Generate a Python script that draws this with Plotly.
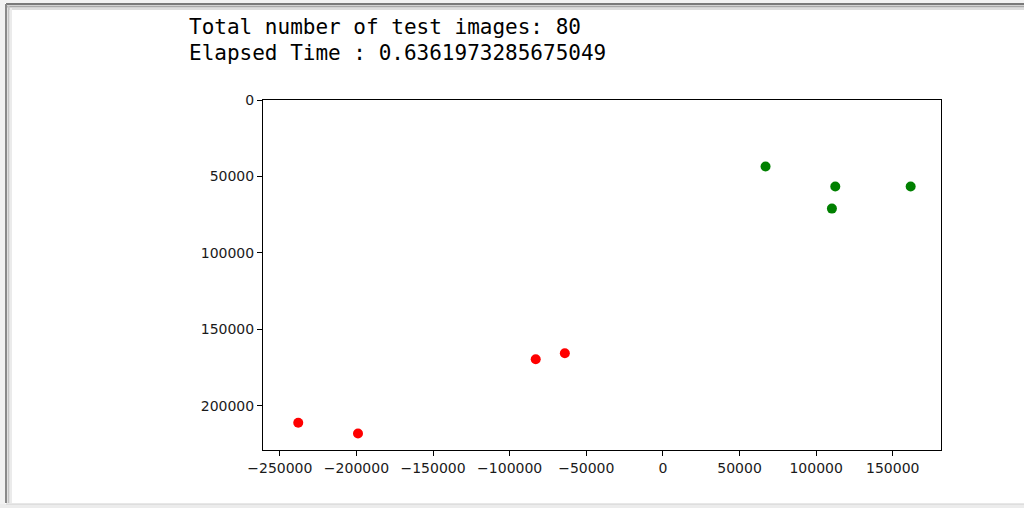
import plotly.graph_objects as go

# valores
red_x = [-238000, -199000, -83000, -64000]
red_y = [211000, 218000, 169500, 165500]
green_x = [67000, 112500, 110300, 161700]
green_y = [43500, 56500, 71000, 56500]

header_lines = ["Total number of test images: 80", "Elapsed Time : 0.6361973285675049"]

W, H = 1024, 508
L, R, T, B = 263, 941, 100, 450


def px(x):
    return (x - L) / (R - L)


def py(y):
    return (B - y) / (B - T)


fig = go.Figure()

fig.add_trace(go.Scatter(
    x=red_x, y=red_y, mode="markers",
    marker=dict(color="#ff0000", size=10, line=dict(width=0)),
    showlegend=False
))
fig.add_trace(go.Scatter(
    x=green_x, y=green_y, mode="markers",
    marker=dict(color="#008000", size=10, line=dict(width=0)),
    showlegend=False
))

axis_common = dict(
    showgrid=False, zeroline=False,
    showline=True, linecolor="#000000", linewidth=1, mirror=True,
    ticks="outside", ticklen=5, tickwidth=1, tickcolor="#000000",
    tickfont=dict(family="DejaVu Sans", size=14, color="#1a1a1a"),
    tickformat="d",
)

# marco gris de la ventana del notebook
shapes = [
    dict(type="rect", xref="paper", yref="paper", x0=px(0), x1=px(W), y0=py(3), y1=py(0),
         fillcolor="#f2f2f2", line=dict(width=0), layer="below"),
    dict(type="rect", xref="paper", yref="paper", x0=px(0), x1=px(5), y0=py(H), y1=py(0),
         fillcolor="#f2f2f2", line=dict(width=0), layer="below"),
    dict(type="rect", xref="paper", yref="paper", x0=px(0), x1=px(W), y0=py(H), y1=py(504),
         fillcolor="#ececec", line=dict(width=0), layer="below"),
    dict(type="line", xref="paper", yref="paper", x0=px(6), x1=px(W), y0=py(4), y1=py(4),
         line=dict(color="#7a7a7a", width=2)),
    dict(type="line", xref="paper", yref="paper", x0=px(6), x1=px(W), y0=py(6.5), y1=py(6.5),
         line=dict(color="#a8a8a8", width=2)),
    dict(type="line", xref="paper", yref="paper", x0=px(8), x1=px(W), y0=py(9), y1=py(9),
         line=dict(color="#dddddd", width=2)),
    dict(type="line", xref="paper", yref="paper", x0=px(6), x1=px(6), y0=py(4), y1=py(503),
         line=dict(color="#8a8a8a", width=2)),
    dict(type="line", xref="paper", yref="paper", x0=px(8.5), x1=px(8.5), y0=py(6), y1=py(503),
         line=dict(color="#c4c4c4", width=2)),
    dict(type="line", xref="paper", yref="paper", x0=px(11), x1=px(11), y0=py(8), y1=py(503),
         line=dict(color="#ebebeb", width=2)),
    dict(type="line", xref="paper", yref="paper", x0=px(6), x1=px(W), y0=py(504), y1=py(504),
         line=dict(color="#cfcfcf", width=1)),
]

annotations = [
    dict(text=line, xref="paper", yref="paper", x=px(187), y=py(27 + 26 * i),
         xanchor="left", yanchor="middle", showarrow=False,
         font=dict(family="DejaVu Sans Mono", size=21, color="#000000"))
    for i, line in enumerate(header_lines)
]

fig.update_layout(
    width=W, height=H,
    margin=dict(l=L, r=W - R, t=T, b=H - B),
    paper_bgcolor="#ffffff", plot_bgcolor="#ffffff",
    xaxis=dict(range=[-261000, 181500], dtick=50000, tick0=0, **axis_common),
    yaxis=dict(range=[228800, 0], dtick=50000, tick0=0, **axis_common),
    shapes=shapes,
    annotations=annotations,
)

fig.write_html("out.html", config={"displayModeBar": False},
               post_script="document.body.style.margin='0';document.body.style.overflow='hidden';")
